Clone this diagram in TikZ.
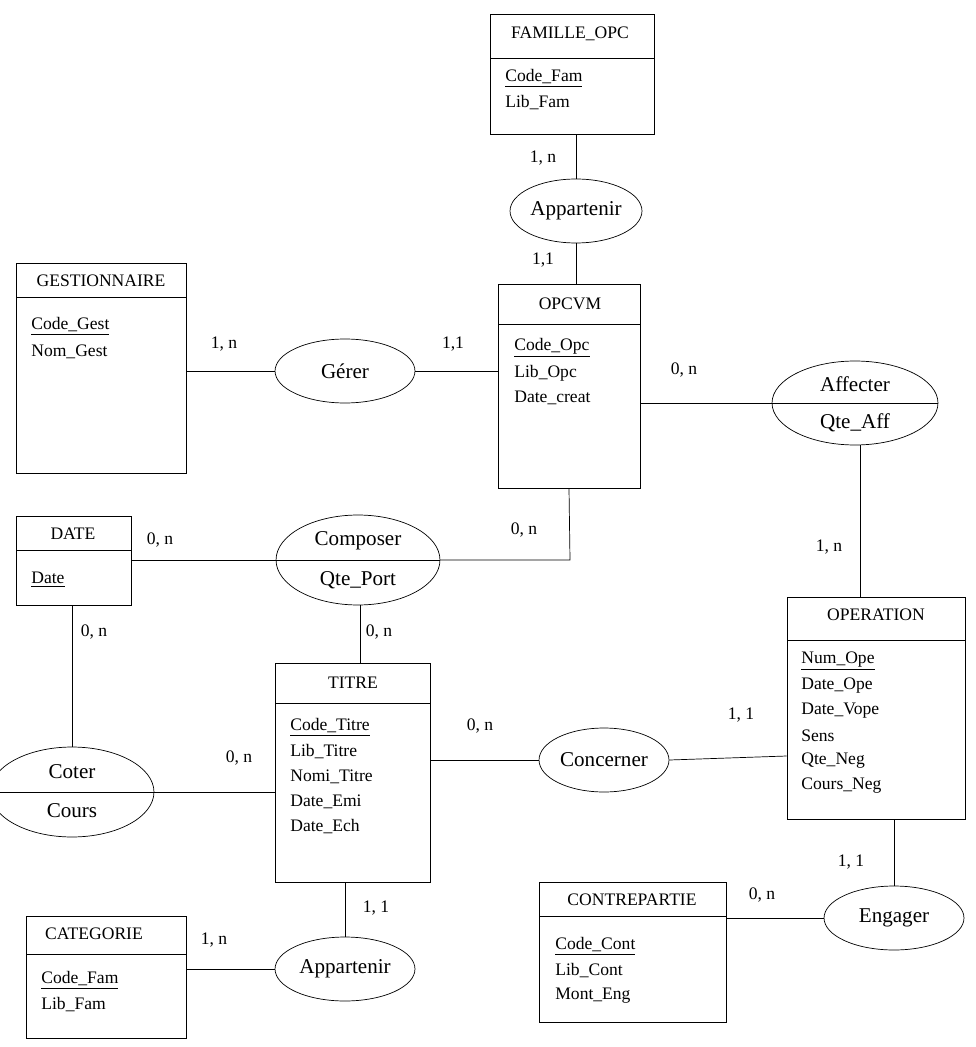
\documentclass[tikz,border=0pt]{standalone}
\usepackage{fontspec}
\setmainfont{Liberation Serif}
\usetikzlibrary{shapes.geometric}
\begin{document}
\begin{tikzpicture}[x=0.02cm,y=-0.02cm,
  font=\fontsize{10}{12}\selectfont,
  ent/.style 2 args={draw,rectangle,minimum width={#1*0.02cm},minimum height={#2*0.02cm},inner sep=0},
  rel/.style 2 args={draw,ellipse,minimum width={#1*0.04cm},minimum height={#2*0.04cm},inner sep=0},
  att/.style={anchor=west,inner sep=0},
  card/.style={inner sep=0}]
  \useasboundingbox (0,0) rectangle (975,1047);

  % entities
  \node[ent={164}{120}] (fam) at (572,74){};
  \node[ent={142}{204}] (opcvm) at (569,386){};
  \node[ent={170}{210}] (gest) at (101,368){};
  \node[ent={115}{89}] (date) at (73.5,560.5){};
  \node[ent={178}{222}] (oper) at (876,708){};
  \node[ent={155}{219}] (titre) at (352.5,772.5){};
  \node[ent={160}{122}] (cat) at (106,977){};
  \node[ent={187}{140}] (contre) at (632.5,952){};

  \draw (490,58) -- (654,58);
  \draw (498,324) -- (640,324);
  \draw (16,297) -- (186,297);
  \draw (16,550) -- (131,550);
  \draw (787,640) -- (965,640);
  \draw (275,703) -- (430,703);
  \draw (26,954) -- (186,954);
  \draw (539,916) -- (726,916);

  \node at (570,34) {FAMILLE\_OPC};
  \node[att] at (505,78) {\underline{Code\_Fam}};
  \node[att] at (505,103) {Lib\_Fam};
  \node at (570,304) {OPCVM};
  \node[att] at (514,348) {\underline{Code\_Opc}};
  \node[att] at (514,373) {Lib\_Opc};
  \node[att] at (514,398) {Date\_creat};
  \node at (101,281) {GESTIONNAIRE};
  \node[att] at (31,326) {\underline{Code\_Gest}};
  \node[att] at (31,352) {Nom\_Gest};
  \node at (73,534) {DATE};
  \node[att] at (31,580) {\underline{Date}};
  \node at (876,615) {OPERATION};
  \node[att] at (801,661) {\underline{Num\_Ope}};
  \node[att] at (801,686) {Date\_Ope};
  \node[att] at (801,711) {Date\_Vope};
  \node[att] at (801,736) {Sens};
  \node[att] at (801,761) {Qte\_Neg};
  \node[att] at (801,786) {Cours\_Neg};
  \node at (353,683) {TITRE};
  \node[att] at (290,727) {\underline{Code\_Titre}};
  \node[att] at (290,752) {Lib\_Titre};
  \node[att] at (290,777) {Nomi\_Titre};
  \node[att] at (290,802) {Date\_Emi};
  \node[att] at (290,827) {Date\_Ech};
  \node at (94,934) {CATEGORIE};
  \node[att] at (41,980) {\underline{Code\_Fam}};
  \node[att] at (41,1005) {Lib\_Fam};
  \node at (632,900) {CONTREPARTIE};
  \node[att] at (555,946) {\underline{Code\_Cont}};
  \node[att] at (555,971) {Lib\_Cont};
  \node[att] at (555,996) {Mont\_Eng};

  % relations
  \node[rel={66}{32}] (app1) at (576,211){};
  \node at (576,211) {\large Appartenir};
  \node[rel={70}{32}] (gerer) at (345,371){};
  \node at (345,371) {\large Gérer};
  \node[rel={83}{42}] (affecter) at (855,403){};
  \node at (855,384) {\large Affecter};
  \node at (855,423) {\large Qte\_Aff};
  \node[rel={82}{45}] (composer) at (358,560){};
  \node at (358,541) {\large Composer};
  \node at (358,580) {\large Qte\_Port};
  \node[rel={65}{32}] (concerner) at (604,760){};
  \node at (604,760) {\large Concerner};
  \node[rel={82}{45}] (coter) at (72,792){};
  \node at (72,772) {\large Coter};
  \node at (72,811) {\large Cours};
  \node[rel={70}{32}] (app2) at (345,969){};
  \node at (345,969) {\large Appartenir};
  \node[rel={70}{32}] (engager) at (894,918){};
  \node at (894,918) {\large Engager};

  \draw (affecter.west) -- (affecter.east);
  \draw (composer.west) -- (composer.east);
  \draw (coter.west) -- (coter.east);

  % links
  \draw (fam.south -| app1.north) -- (app1.north);
  \draw (app1.south) -- (opcvm.north -| app1.south);
  \draw (gest.east |- gerer.west) -- (gerer.west);
  \draw (gerer.east) -- (opcvm.west |- gerer.east);
  \draw (opcvm.east |- affecter.west) -- (affecter.west);
  \draw (affecter.south -| 860,0) -- (oper.north -| 860,0);
  \draw (opcvm.south) -- (570,560) -- (composer.east);
  \draw (date.east |- composer.west) -- (composer.west);
  \draw (composer.south -| 360,0) -- (titre.north -| 360,0);
  \draw (date.south -| coter.north) -- (coter.north);
  \draw (coter.east) -- (titre.west |- coter.east);
  \draw (titre.east |- concerner.west) -- (concerner.west);
  \draw (concerner.east) -- (oper.west |- 0,756);
  \draw (oper.south -| engager.north) -- (engager.north);
  \draw (contre.east |- engager.west) -- (engager.west);
  \draw (titre.south -| app2.north) -- (app2.north);
  \draw (cat.east |- app2.west) -- (app2.west);

  % cardinalities
  \node[card] at (543,158) {1, n};
  \node[card] at (543,260) {1,1};
  \node[card] at (224,344) {1, n};
  \node[card] at (453,344) {1,1};
  \node[card] at (684,370) {0, n};
  \node[card] at (829,547) {1, n};
  \node[card] at (524,530) {0, n};
  \node[card] at (160,540) {0, n};
  \node[card] at (379,632) {0, n};
  \node[card] at (94,632) {0, n};
  \node[card] at (239,758) {0, n};
  \node[card] at (480,726) {0, n};
  \node[card] at (741,715) {1, 1};
  \node[card] at (851,862) {1, 1};
  \node[card] at (762,895) {0, n};
  \node[card] at (376,908) {1, 1};
  \node[card] at (214,940) {1, n};
\end{tikzpicture}
\end{document}
